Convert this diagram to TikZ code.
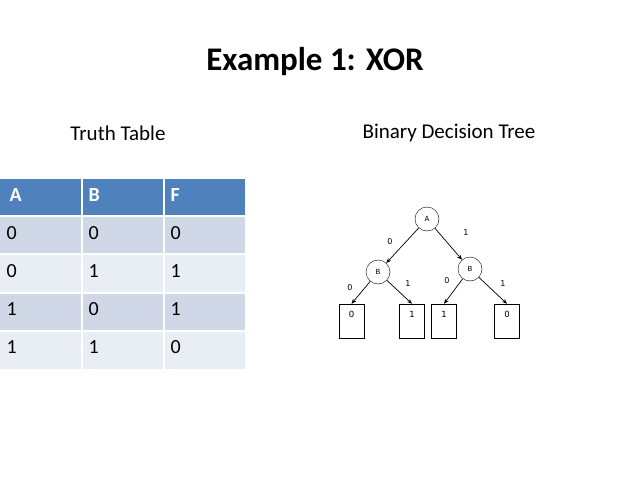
\documentclass[tikz,border=0pt]{standalone}
\usepackage{fontspec}
\setmainfont{Carlito}
\newfontfamily\treefont{DejaVu Sans}
\usepackage{xcolor}
\usepackage{tikz}
\usetikzlibrary{arrows.meta}

\definecolor{hdrblue}{HTML}{4F81BD}
\definecolor{rowdark}{HTML}{D0D8E8}
\definecolor{rowlight}{HTML}{E9EDF4}

\begin{document}
\begin{tikzpicture}[x=1pt,y=-1pt,
  cell/.style={anchor=west,font=\fontsize{20}{24}\selectfont},
  hdr/.style={cell,text=white,font=\fontsize{20}{24}\selectfont\bfseries},
  test/.style={draw,circle,minimum size=24pt,inner sep=0pt,font=\treefont\fontsize{7}{8}\selectfont},
  leaf/.style={draw,rectangle,minimum width=25pt,inner xsep=0pt,inner ysep=2pt,text height=11pt,text depth=19pt,font=\treefont\fontsize{8.5}{10}\selectfont},
  branch/.style={-{Stealth[length=5pt,width=4pt]},line width=0.7pt},
  elabel/.style={font=\treefont\fontsize{8}{9}\selectfont}]
\useasboundingbox (0,0) rectangle (638,479);

\node[font=\fontsize{33}{38}\selectfont\bfseries] (title) at (315,62) {Example 1: XOR};
\node[font=\fontsize{21}{25}\selectfont] (ttl) at (118,133) {Truth Table};
\node[font=\fontsize{21}{25}\selectfont] (bdt) at (449,133) {Binary Decision Tree};

% truth table
\fill[hdrblue] (0,179) rectangle (245,216);
\fill[rowdark] (0,216) rectangle (245,254);
\fill[rowlight] (0,254) rectangle (245,293);
\fill[rowdark] (0,293) rectangle (245,331);
\fill[rowlight] (0,331) rectangle (245,369);
\draw[white,line width=1.5pt] (82,179)--(82,369) (164,179)--(164,369);
\draw[white,line width=1.5pt] (0,216)--(245,216) (0,254)--(245,254) (0,293)--(245,293) (0,331)--(245,331);

\node[hdr] (ha) at (6,195) {A};
\node[hdr] (hb) at (85,195) {B};
\node[hdr] (hf) at (167,195) {F};

\node[cell] at (3,233) {0}; \node[cell] at (85,233) {0}; \node[cell] at (167,233) {0};
\node[cell] at (3,271) {0}; \node[cell] at (85,271) {1}; \node[cell] at (167,271) {1};
\node[cell] at (3,309) {1}; \node[cell] at (85,309) {0}; \node[cell] at (167,309) {1};
\node[cell] at (3,347) {1}; \node[cell] at (85,347) {1}; \node[cell] at (167,347) {0};

% decision tree
\node[test] (a) at (427,219) {A};
\node[test] (bl) at (378,272) {B};
\node[test] (br) at (470,269) {B};

\node[leaf] (f00) at (351.5,321) {0};
\node[leaf] (f01) at (412,321) {1};
\node[leaf] (f10) at (444,321) {1};
\node[leaf] (f11) at (507,321) {0};

\draw[branch] (a)--(bl);
\draw[branch] (a)--(br);
\draw[branch] (bl)--(f00.north);
\draw[branch] (bl)--(f01.north);
\draw[branch] (br)--(f10.north);
\draw[branch] (br)--(f11.north);

\node[elabel] at (390,242) {0};
\node[elabel] at (466,233) {1};
\node[elabel] at (350,288) {0};
\node[elabel] at (408,284) {1};
\node[elabel] at (447,281) {0};
\node[elabel] at (503,284) {1};
\end{tikzpicture}
\end{document}
